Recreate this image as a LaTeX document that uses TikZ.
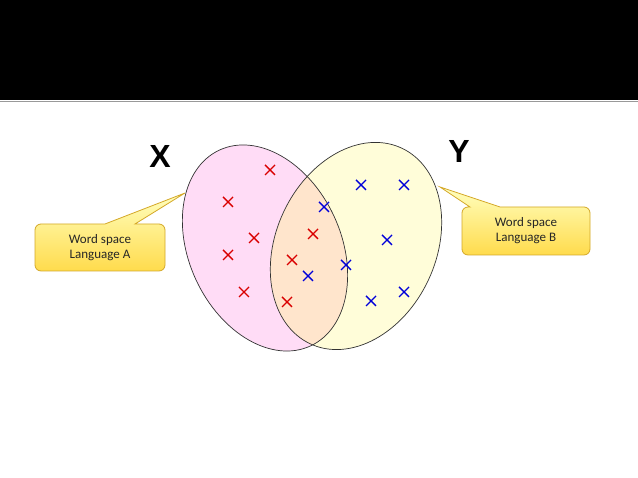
\documentclass[tikz,border=0pt]{standalone}
\usepackage{fontspec}
\setmainfont{Carlito}
\newfontfamily\labfont{Liberation Sans}
\begin{document}
\begin{tikzpicture}[x=1pt,y=1pt,
  callout/.style={draw=black!30!yellow!60!orange, line width=0.8pt, top color=yellow!25!white, bottom color=yellow!60!orange!70!white},
  rx/.style={red!85!black, line width=1.4pt},
  bx/.style={blue!85!black, line width=1.4pt},
  txt/.style={font=\fontsize{13}{15}\selectfont, align=center, text=black!85},
  big/.style={font=\labfont\bfseries\fontsize{32}{32}\selectfont}]
\useasboundingbox (0,0) rectangle (638,478);
\fill[white] (0,0) rectangle (638,478);
\fill[black] (0,378) rectangle (638,478);
\draw[black!40, line width=1.5pt] (0,376.5) -- (638,376.5);
% ellipses
\def\ax{-65}\def\ay{65}
\fill[pink!60!magenta!25!white, rotate around={\ax:(265,230)}] (265,230) ellipse [x radius=108,y radius=76];
\fill[yellow!15!white, rotate around={\ay:(356,232)}] (356,232) ellipse [x radius=108,y radius=80];
\begin{scope}
\clip[rotate around={\ax:(265,230)}] (265,230) ellipse [x radius=108,y radius=76];
\fill[orange!20!white, rotate around={\ay:(356,232)}] (356,232) ellipse [x radius=108,y radius=80];
\end{scope}
\draw[black!80, line width=0.7pt, rotate around={\ax:(265,230)}] (265,230) ellipse [x radius=108,y radius=76];
\draw[black!80, line width=0.7pt, rotate around={\ay:(356,232)}] (356,232) ellipse [x radius=108,y radius=80];
% crosses
\foreach \x/\y in {270/170,228/202,254/238,228/255,244/292,313/234,292/260,287/302}
  \draw[rx] (\x-5,478-\y-5) -- (\x+5,478-\y+5) (\x-5,478-\y+5) -- (\x+5,478-\y-5);
\foreach \x/\y in {361/185,404/185,324/207,387/240,346/265,308/276,371/301,404/292}
  \draw[bx] (\x-5,478-\y-5) -- (\x+5,478-\y+5) (\x-5,478-\y+5) -- (\x+5,478-\y-5);
% labels
\node[big] (X) at (160,321) {X};
\node[big] (Y) at (459,326) {Y};
% callouts
\draw[callout] (105,254) -- (185,285) -- (135,254) [rounded corners=6] -- (165,254) -- (165,207) -- (35,207) -- (35,254) [sharp corners] -- cycle;
\node[txt] (A) at (100,230.5) {Word space\\Language A};
\draw[callout] (500,271) -- (440,291) -- (470,271) [rounded corners=6] -- (462,271) -- (462,223) -- (590,223) -- (590,271) [sharp corners] -- cycle;
\node[txt] (B) at (526,247) {Word space\\Language B};
\end{tikzpicture}
\end{document}
